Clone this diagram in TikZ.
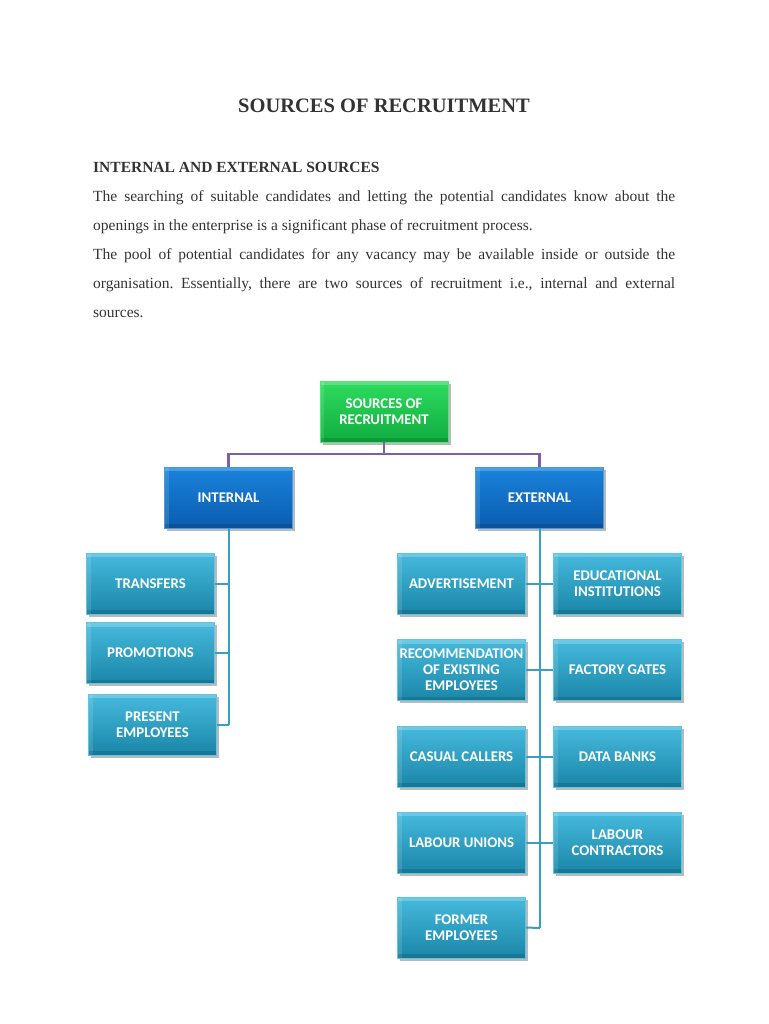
\documentclass[tikz,border=0pt]{standalone}
\usepackage{fontspec}
\setmainfont{Liberation Serif}
\newfontfamily\boxfont{Carlito}
\usetikzlibrary{shadows,calc}
\frenchspacing
\definecolor{teallight}{HTML}{46BADD}
\definecolor{tealdark}{HTML}{1A86A8}
\definecolor{tealedge}{HTML}{5CC6E4}
\definecolor{bluelight}{HTML}{1A82DA}
\definecolor{bluedark}{HTML}{0A5DB0}
\definecolor{greenlight}{HTML}{2EDC5E}
\definecolor{greendark}{HTML}{10AC40}
\definecolor{tealline}{HTML}{3A9DC2}
\definecolor{purpleline}{HTML}{7B5FA8}
\definecolor{bodytext}{HTML}{333333}
\tikzset{
  x=1pt,y=-1pt,
  basebox/.style={minimum width=128pt, minimum height=61pt, inner sep=0pt, align=center,
    text=white, line width=0.8pt,
    font=\boxfont\bfseries\fontsize{14.8}{16}\selectfont,
    drop shadow={shadow xshift=2.5pt, shadow yshift=-2.5pt, fill=black!60, opacity=0.45},
    path picture={\fill[white,opacity=0.22] (path picture bounding box.north west) rectangle ([yshift=-4pt]path picture bounding box.north east);
                  \fill[white,opacity=0.12] (path picture bounding box.north west) rectangle ([xshift=4pt]path picture bounding box.south west);
                  \fill[black,opacity=0.12] ([yshift=4pt]path picture bounding box.south west) rectangle (path picture bounding box.south east);}},
  leafbox/.style={basebox, top color=teallight, bottom color=tealdark, draw=tealedge},
  midbox/.style={basebox, top color=bluelight, bottom color=bluedark, draw=bluelight!80!white},
  rootbox/.style={basebox, top color=greenlight, bottom color=greendark, draw=greenlight!80!white},
  tline/.style={draw=tealline, line width=2pt},
  pline/.style={draw=purpleline, line width=2.5pt},
}
\begin{document}
\begin{tikzpicture}
\useasboundingbox (0,0) rectangle (768,1024);
\fill[white] (0,0) rectangle (768,1024);

% text
\node[text=bodytext, font=\bfseries\fontsize{20.5}{23}\selectfont] (title) at (384,105.5) {SOURCES OF RECRUITMENT};
\node[text=bodytext, font=\bfseries\fontsize{15.5}{17}\selectfont, anchor=base west, inner sep=0pt] (head) at (93,172.5) {INTERNAL AND EXTERNAL SOURCES};
\node[text=bodytext, anchor=north west, inner sep=0pt, font=\fontsize{15.5}{29}\selectfont] (para) at (93,190)
{\parbox{582pt}{\parindent=0pt
The searching of suitable candidates and letting the potential candidates know about the\linebreak
openings in the enterprise is a significant phase of recruitment process.\par
The pool of potential candidates for any vacancy may be available inside or outside the\linebreak
organisation. Essentially, there are two sources of recruitment i.e., internal and external\linebreak
sources.}};

\coordinate (j) at (384,454);
\coordinate (iv) at (229,724.5);
\coordinate (ev) at (540,928);

% boxes
\node[rootbox] (root) at (384,411.5) {SOURCES OF\\RECRUITMENT};
\node[midbox] (int) at (228.5,497.5) {INTERNAL};
\node[midbox] (ext) at (539.5,497.5) {EXTERNAL};

\node[leafbox] (tr) at (150.5,583.5) {TRANSFERS};
\node[leafbox] (pr) at (150.5,653) {PROMOTIONS};
\node[leafbox] (pe) at (152.5,724.5) {PRESENT\\EMPLOYEES};

\node[leafbox] (ad) at (461.5,583.5) {ADVERTISEMENT};
\node[leafbox] (re) at (461.5,670) {RECOMMENDATION\\OF EXISTING\\EMPLOYEES};
\node[leafbox] (cc) at (461.5,756.5) {CASUAL CALLERS};
\node[leafbox] (lu) at (461.5,842.5) {LABOUR UNIONS};
\node[leafbox] (fe) at (461.5,927.5) {FORMER\\EMPLOYEES};

\node[leafbox] (ed) at (617.5,583.5) {EDUCATIONAL\\INSTITUTIONS};
\node[leafbox] (fg) at (617.5,670) {FACTORY GATES};
\node[leafbox] (db) at (617.5,756.5) {DATA BANKS};
\node[leafbox] (lc) at (617.5,842.5) {LABOUR\\CONTRACTORS};

% purple connectors
\draw[pline] (root.south) -- (j);
\draw[pline] (int.north) |- (j) -| (ext.north);

% internal branch
\draw[tline] (int.south -| iv) -- (iv);
\draw[tline] (tr.east) -- (tr.east -| iv);
\draw[tline] (pr.east) -- (pr.east -| iv);
\draw[tline] (pe.east) -- (iv);

% external branch
\draw[tline] (ext.south -| ev) -- (ev);
\draw[tline] (ad.east) -- (ed.west);
\draw[tline] (re.east) -- (fg.west);
\draw[tline] (cc.east) -- (db.west);
\draw[tline] (lu.east) -- (lc.west);
\draw[tline] (fe.east) -- (ev);
\end{tikzpicture}
\end{document}
